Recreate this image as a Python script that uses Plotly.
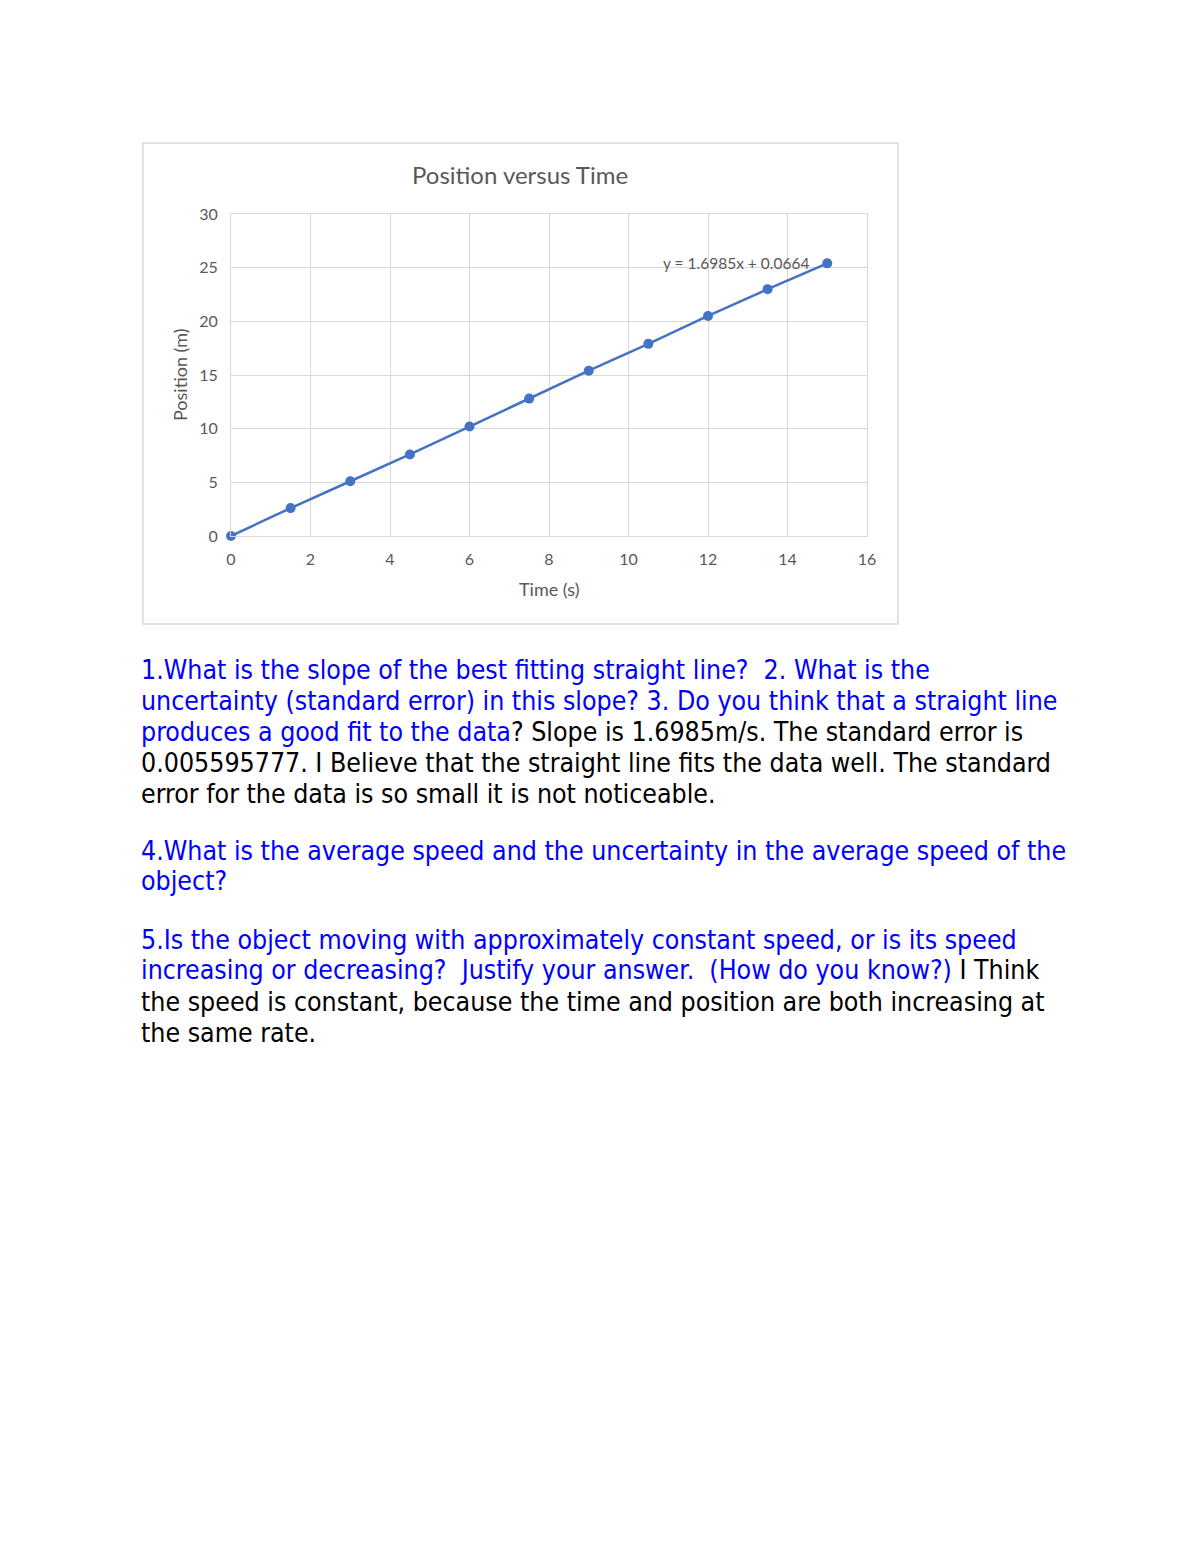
import plotly.graph_objects as go

# Position versus Time data
time_s = [0, 1.5, 3, 4.5, 6, 7.5, 9, 10.5, 12, 13.5, 15]
position_m = [0, 2.6, 5.1, 7.6, 10.2, 12.8, 15.4, 17.9, 20.5, 23.0, 25.4]
x_ticks = [0, 2, 4, 6, 8, 10, 12, 14, 16]
y_ticks = [0, 5, 10, 15, 20, 25, 30]
fit_label = "y = 1.6985x + 0.0664"

BLUE = "#0000FF"
BLACK = "#000000"

# page text below the chart: list of lines, each a list of (text, colour) runs
text_lines = [
    (668, [("1.What is the slope of the best fitting straight line?&nbsp; 2. What is the", BLUE)]),
    (699, [("uncertainty (standard error) in this slope? 3. Do you think that a straight line", BLUE)]),
    (730, [("produces a good fit to the data", BLUE),
           ("? Slope is 1.6985m/s. The standard error is", BLACK)]),
    (761, [("0.005595777. I Believe that the straight line fits the data well. The standard", BLACK)]),
    (792, [("error for the data is so small it is not noticeable.", BLACK)]),
    (849, [("4.What is the average speed and the uncertainty in the average speed of the", BLUE)]),
    (880, [("object?", BLUE)]),
    (938, [("5.Is the object moving with approximately constant speed, or is its speed", BLUE)]),
    (969, [("increasing or decreasing?&nbsp; Justify your answer.&nbsp; (How do you know?)", BLUE),
           (" I Think", BLACK)]),
    (1000, [("the speed is constant, because the time and position are both increasing at", BLACK)]),
    (1031, [("the same rate.", BLACK)]),
]

# plot area in page pixels (the page body adds a small offset)
OFF = 7
L, R, T, B = 230 - OFF, 866 - OFF, 213 - OFF, 535 - OFF
W, H = 1200, 1553


def px(q):
    return (q - OFF - L) / (R - L)


def py(p):
    return (B - (p - OFF)) / (B - T)


fig = go.Figure()
fig.add_trace(go.Scatter(
    x=time_s, y=position_m, mode="lines+markers",
    line=dict(color="#4472C4", width=2.5),
    marker=dict(color="#4472C4", size=10),
    cliponaxis=False, showlegend=False, hoverinfo="x+y"))

gray = "#595959"
axis_common = dict(showgrid=True, gridcolor="#D9D9D9", gridwidth=1,
                   zeroline=False, showline=True, linecolor="#D9D9D9",
                   mirror=True, ticks="", tickfont=dict(family="Lato", size=16, color=gray))
fig.update_xaxes(range=[0, 16], tickvals=x_ticks, ticklabelstandoff=9, **axis_common)
fig.update_yaxes(range=[0, 30], tickvals=y_ticks, ticklabelstandoff=9, **axis_common)

anns = [
    dict(text="Position versus Time", x=px(519), y=py(174), xanchor="center", yanchor="middle",
         font=dict(family="Lato", size=24, color=gray)),
    dict(text="Time (s)", x=px(548), y=py(588), xanchor="center", yanchor="middle",
         font=dict(family="Lato", size=18, color=gray)),
    dict(text="Position (m)", x=px(179), y=py(374), xanchor="center", yanchor="middle",
         textangle=-90, font=dict(family="Lato", size=18, color=gray)),
    dict(text=fit_label, x=14.6, y=25.4, xref="x", yref="y", xanchor="right",
         yanchor="middle", font=dict(family="Lato", size=15.5, color=gray)),
]

for ypix, runs in text_lines:
    html = "".join(f"<span style='color:{c}'>{t}</span>" for t, c in runs)
    anns.append(dict(text=html, x=px(138), y=py(ypix), xanchor="left", yanchor="middle",
                     align="left",
                     font=dict(family="DejaVu Sans Condensed", size=26.5, color=BLACK)))

for a in anns:
    a.setdefault("xref", "paper")
    a.setdefault("yref", "paper")
    a["showarrow"] = False

fig.update_layout(
    width=W, height=H,
    margin=dict(l=L, r=W - R, t=T, b=H - B),
    paper_bgcolor="white", plot_bgcolor="white",
    annotations=anns,
    shapes=[dict(type="rect", xref="paper", yref="paper",
                 x0=px(142), x1=px(897), y0=py(623), y1=py(142),
                 line=dict(color="#D9D9D9", width=1.5), layer="below")],
)

fig.write_html("out.html")
